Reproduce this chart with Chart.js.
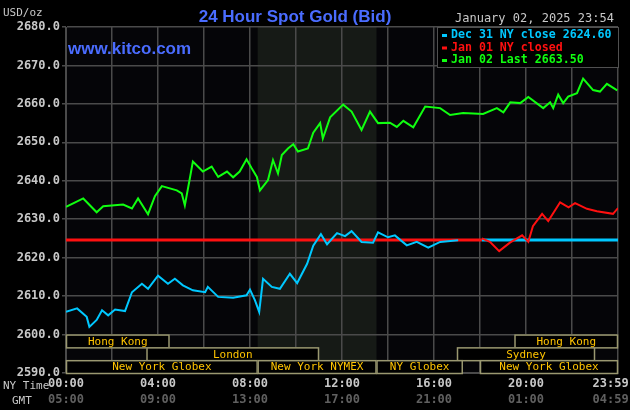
<!DOCTYPE html>
<html>
<head>
<meta charset="utf-8">
<script src="https://cdn.jsdelivr.net/npm/chart.js@4"></script>
<style>
  html, body { margin: 0; padding: 0; background: #000; }
  #wrap { width: 630px; height: 410px; }
</style>
</head>
<body>
<div id="wrap"><canvas id="myChart" width="630" height="410"></canvas></div>
<script>
// minutes since 00:00 NY time, price
const dec31Minutes = [0,29,54,61,80,94,110,128,154,172,198,214,240,266,284,305,331,363,370,397,436,471,480,493,504,514,537,558,584,603,629,645,665,681,707,728,745,771,801,814,840,858,889,915,945,976,1023];
const dec31Prices = [2605.9,2606.8,2604.6,2602.0,2603.8,2606.3,2605.0,2606.5,2606.1,2611.0,2613.2,2611.9,2615.3,2613.2,2614.5,2612.8,2611.5,2611.0,2612.4,2609.8,2609.6,2610.2,2611.7,2608.9,2605.9,2614.5,2612.4,2611.9,2615.8,2613.4,2618.4,2623.1,2626.1,2623.5,2626.4,2625.6,2626.9,2624.1,2623.9,2626.6,2625.3,2625.8,2623.2,2624.1,2622.6,2624.1,2624.5];

const jan01Minutes = [1085,1106,1130,1158,1190,1206,1218,1242,1258,1289,1311,1328,1359,1385,1427,1440];
const jan01Prices = [2625.0,2624.1,2621.7,2623.9,2625.8,2624.1,2628.2,2631.4,2629.5,2634.4,2633.1,2634.2,2632.7,2632.1,2631.4,2632.9];

const jan02Minutes = [0,45,80,97,149,172,188,214,232,250,289,302,310,323,331,357,380,397,420,436,453,471,484,498,506,527,540,553,563,579,593,605,631,645,663,670,689,723,745,771,793,814,845,863,880,906,937,976,1002,1036,1088,1124,1141,1159,1185,1206,1245,1263,1271,1284,1297,1310,1333,1349,1375,1393,1411,1438];
const jan02Prices = [2633.2,2635.4,2631.8,2633.4,2633.8,2632.8,2635.4,2631.3,2636.0,2638.6,2637.5,2636.7,2633.6,2640.6,2645.0,2642.4,2643.7,2641.0,2642.4,2640.9,2642.4,2645.6,2643.3,2641.0,2637.5,2640.2,2645.4,2641.9,2646.7,2648.4,2649.5,2647.6,2648.4,2652.5,2655.0,2651.0,2656.5,2659.8,2658.0,2653.2,2658.0,2655.0,2655.1,2654.0,2655.6,2653.9,2659.3,2658.9,2657.1,2657.6,2657.4,2658.9,2657.8,2660.4,2660.2,2661.8,2658.9,2660.4,2658.9,2662.4,2660.2,2661.9,2662.8,2666.6,2663.6,2663.2,2665.2,2663.5];

const prevClose = 2624.60;

const nyTimeLabels = ['00:00','04:00','08:00','12:00','16:00','20:00','23:59'];
const gmtLabels = ['05:00','09:00','13:00','17:00','21:00','01:00','04:59'];
const labelMinutes = [0,240,480,720,960,1200,1439];

// trading sessions: [start minute, end minute, row, name]
const sessionStarts = [0,1170,210,1020,0,500,810,1080];
const sessionEnds = [270,1440,660,1380,500,810,1035,1440];
const sessionRows = [0,0,1,1,2,2,2,2];
const sessionNames = ['Hong Kong','Hong Kong','London','Sydney','New York Globex','New York NYMEX','NY Globex','New York Globex'];

const legendLabels = ['Dec 31 NY close 2624.60','Jan 01 NY closed','Jan 02 Last 2663.50'];
const legendColors = ['#00c8ff','#ff1010','#10ff10'];

const toPts = (xs, ys) => xs.map((x, i) => ({ x: x, y: ys[i] }));
const MONO = '"DejaVu Sans Mono", monospace';

const kitcoPlugin = {
  id: 'kitco',
  beforeDraw(chart) {
    const c = chart.ctx, a = chart.chartArea, xs = chart.scales.x;
    c.save();
    c.fillStyle = '#000';
    c.fillRect(0, 0, chart.width, chart.height);
    c.fillStyle = '#050508';
    c.fillRect(a.left, a.top, a.right - a.left, a.bottom - a.top);
    c.fillStyle = '#161a16';
    const s = xs.getPixelForValue(500), e = xs.getPixelForValue(810);
    c.fillRect(s, a.top, e - s, a.bottom - a.top);
    c.restore();
  },
  afterDatasetsDraw(chart) {
    const c = chart.ctx, xs = chart.scales.x, ys = chart.scales.y;
    c.save();
    // session boxes
    const rowH = (ys.getPixelForValue(2590) - ys.getPixelForValue(2600)) / 3;
    const top0 = ys.getPixelForValue(2600);
    c.font = '11px ' + MONO;
    c.textAlign = 'center';
    c.textBaseline = 'middle';
    sessionNames.forEach((name, i) => {
      const x0 = xs.getPixelForValue(sessionStarts[i]);
      const x1 = xs.getPixelForValue(sessionEnds[i]);
      const y0 = top0 + sessionRows[i] * rowH;
      c.fillStyle = '#000';
      c.fillRect(x0, y0, x1 - x0, rowH);
      c.strokeStyle = '#9a9870';
      c.lineWidth = 1.5;
      c.strokeRect(x0 + 0.5, y0 + 0.5, x1 - x0 - 1, rowH);
      c.fillStyle = '#ffc400';
      c.fillText(name, (x0 + x1) / 2, y0 + rowH / 2 + 1);
    });
    // legend box
    c.fillStyle = '#000';
    c.fillRect(437, 27, 181, 40);
    c.strokeStyle = '#505050';
    c.lineWidth = 1;
    c.strokeRect(437.5, 27.5, 181, 40);
    c.font = 'bold 11.6px ' + MONO;
    c.textAlign = 'left';
    legendLabels.forEach((t, i) => {
      const y = 35 + i * 12.5;
      c.fillStyle = legendColors[i];
      c.fillRect(442, y - 1, 5, 3);
      c.fillText(t, 451, y);
    });
    // titles
    c.textBaseline = 'alphabetic';
    c.font = 'bold 17px "Liberation Sans", Arial, sans-serif';
    c.fillStyle = '#4a6cff';
    c.textAlign = 'center';
    c.fillText('24 Hour Spot Gold (Bid)', 295, 22);
    c.textAlign = 'left';
    c.fillText('www.kitco.com', 68, 54);
    c.font = '11px ' + MONO;
    c.fillStyle = '#c8c8c8';
    c.fillText('USD/oz', 3, 16);
    c.font = '12px ' + MONO;
    c.fillText('January 02, 2025 23:54', 455, 22);
    // x labels
    c.font = '11px ' + MONO;
    c.fillText('NY Time', 3, 389);
    c.fillText('GMT', 12, 404);
    c.font = 'bold 12px ' + MONO;
    c.textAlign = 'center';
    labelMinutes.forEach((m, i) => {
      let x = xs.getPixelForValue(m);
      if (i === labelMinutes.length - 1) x -= 7;
      c.fillStyle = '#c8c8c8';
      c.fillText(nyTimeLabels[i], x, 387);
      c.fillStyle = '#606060';
      c.fillText(gmtLabels[i], x, 403);
    });
    c.restore();
  }
};

new Chart(document.getElementById('myChart').getContext('2d'), {
  type: 'line',
  data: {
    datasets: [
      { data: toPts([0, 1085], [prevClose, prevClose]), borderColor: '#ff1010', borderWidth: 3, order: 4 },
      { data: toPts([1085, 1440], [prevClose, prevClose]), borderColor: '#00c8ff', borderWidth: 3, order: 3 },
      { data: toPts(dec31Minutes, dec31Prices), borderColor: '#00c8ff', borderWidth: 2, order: 2 },
      { data: toPts(jan01Minutes, jan01Prices), borderColor: '#ff1010', borderWidth: 2, order: 1 },
      { data: toPts(jan02Minutes, jan02Prices), borderColor: '#10ff10', borderWidth: 2, order: 0 }
    ]
  },
  options: {
    responsive: false,
    animation: false,
    events: [],
    elements: { point: { radius: 0 }, line: { tension: 0 } },
    layout: { padding: { top: 27, right: 12 } },
    plugins: { legend: { display: false }, tooltip: { enabled: false } },
    scales: {
      x: {
        type: 'linear', min: 0, max: 1440,
        grid: { color: '#4a4a4a', lineWidth: 1.5, drawTicks: false },
        border: { color: '#4a4a4a' },
        ticks: { stepSize: 120, display: false },
        afterFit(s) { s.height = 37; }
      },
      y: {
        min: 2590, max: 2680,
        grid: { color: '#4a4a4a', lineWidth: 1.5, tickLength: 4 },
        border: { color: '#4a4a4a' },
        ticks: {
          stepSize: 10, color: '#c8c8c8', padding: 2,
          font: { family: 'DejaVu Sans Mono', weight: 'bold', size: 12 },
          callback: v => v.toFixed(1)
        },
        afterFit(s) { s.width = 66; }
      }
    }
  },
  plugins: [kitcoPlugin]
});
</script>
</body>
</html>
